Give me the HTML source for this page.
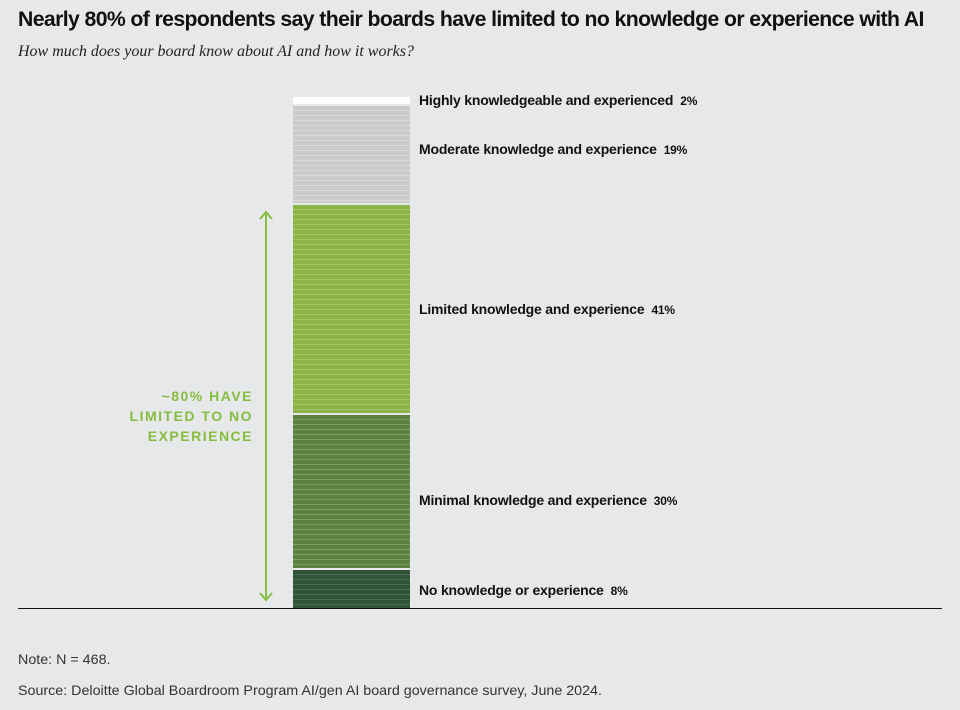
<!DOCTYPE html>
<html><head><meta charset="utf-8"><style>
body{margin:0;width:960px;height:710px;background:#e7e8ea;font-family:"Liberation Sans",sans-serif;position:relative;overflow:hidden}
.t{position:absolute;left:18px;top:8px;font-size:21px;font-weight:bold;letter-spacing:-0.6px;color:#111;transform:scaleX(1.01);transform-origin:left;white-space:nowrap}
.s{position:absolute;left:18px;top:43px;font-family:"Liberation Serif",serif;font-style:italic;font-size:16px;color:#222}
.seg{position:absolute;left:293px;width:117px}
.lab{position:absolute;left:419px;font-size:14px;font-weight:bold;color:#111;transform:scaleX(1.0);transform-origin:left;white-space:nowrap;letter-spacing:-0.2px}
.lab span{font-size:12px;margin-left:7px}
.axis{position:absolute;left:18px;width:924px;top:608px;height:1px;background:#111}
.n{position:absolute;left:18px;font-size:14px;color:#333;transform:scaleX(1.02);transform-origin:left;white-space:nowrap}
.ann{position:absolute;right:707px;top:386px;text-align:right;color:#86bc40;font-size:14px;font-weight:bold;line-height:20px;letter-spacing:1.5px}
</style></head><body>
<div class="t">Nearly 80% of respondents say their boards have limited to no knowledge or experience with AI</div>
<div class="s">How much does your board know about AI and how it works?</div>
<div class="seg" style="top:97px;height:7px;background:#fdfdfd"></div>
<div class="seg" style="top:106px;height:97px;background:repeating-linear-gradient(#cbcbcb 0 4px,#dadada 4px 5px)"></div>
<div class="seg" style="top:205px;height:208px;background:repeating-linear-gradient(#8cb444 0 4px,#a6c66e 4px 5px)"></div>
<div class="seg" style="top:415px;height:153px;background:repeating-linear-gradient(#5b823e 0 4px,#7e9c66 4px 5px)"></div>
<div class="seg" style="top:570px;height:38px;background:repeating-linear-gradient(#2f5334 0 4px,#4f6f52 4px 5px)"></div>
<div class="axis"></div>
<div class="lab" style="top:92px">Highly knowledgeable and experienced<span>2%</span></div>
<div class="lab" style="top:141px">Moderate knowledge and experience<span>19%</span></div>
<div class="lab" style="top:301px">Limited knowledge and experience<span>41%</span></div>
<div class="lab" style="top:492px">Minimal knowledge and experience<span>30%</span></div>
<div class="lab" style="top:582px">No knowledge or experience<span>8%</span></div>
<svg style="position:absolute;left:0;top:0" width="960" height="710">
<g stroke="#86bc40" stroke-width="2" fill="none">
<line x1="266" y1="212" x2="266" y2="600"/>
<polyline points="260,219 266,212 272,219"/>
<polyline points="260,593 266,600 272,593"/>
</g></svg>
<div class="ann">~80% HAVE<br>LIMITED TO NO<br>EXPERIENCE</div>
<div class="n" style="top:651px">Note: N = 468.</div>
<div class="n" style="top:682px">Source: Deloitte Global Boardroom Program AI/gen AI board governance survey, June 2024.</div>
</body></html>
